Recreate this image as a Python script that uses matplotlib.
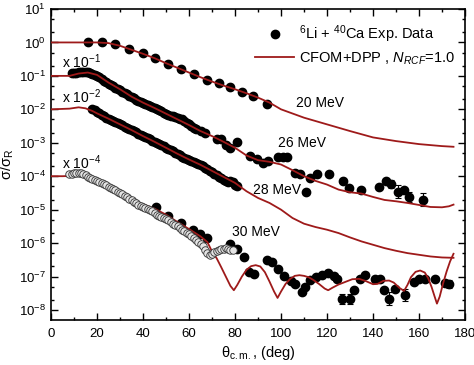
import numpy as np
import matplotlib
matplotlib.use('Agg')
import matplotlib.pyplot as plt
from matplotlib.ticker import LogLocator, MultipleLocator, NullFormatter

plt.rcParams['font.family'] = ['Liberation Sans', 'DejaVu Sans']
plt.rcParams['mathtext.fontset'] = 'custom'
plt.rcParams['mathtext.rm'] = 'Liberation Sans'
plt.rcParams['mathtext.it'] = 'Liberation Sans:italic'
plt.rcParams['mathtext.bf'] = 'Liberation Sans:bold'
plt.rcParams['mathtext.default'] = 'regular'

# values are log10 of the plotted (already scaled) sigma/sigma_R

# ---- 20 MeV (x 1)
th20 = [16, 22, 28, 34, 40, 45, 51, 56.5, 62, 68, 73, 78, 83, 88, 94]
lg20 = [0.01, 0.01, -0.05, -0.2, -0.33, -0.48, -0.65, -0.79, -0.94, -1.13,
        -1.22, -1.34, -1.48, -1.61, -1.85]
cth20 = [0, 10, 20, 25, 30, 35, 40, 45, 50, 55, 60, 65, 70, 75, 80, 85, 90,
         95, 100, 110, 120, 130, 140, 150, 160, 170, 175]
clg20 = [0, 0.0, 0.0, -0.02, -0.1, -0.22, -0.34, -0.47, -0.62, -0.76, -0.9,
         -1.04, -1.17, -1.29, -1.4, -1.52, -1.65, -1.8, -2.0, -2.25, -2.45,
         -2.65, -2.84, -2.95, -3.04, -3.1, -3.12]

# ---- 26 MeV (x 10^-1)
th26 = [9, 10, 11, 12, 13, 14, 15, 16, 17, 18, 19, 20, 21, 22, 23, 24, 25,
        26, 27, 28, 29, 30, 31, 32, 33, 34, 35, 36, 37, 38, 39, 40, 41, 42,
        43, 44, 45, 46, 47, 48, 49, 50, 51, 52, 53, 54, 55, 56, 57, 58, 59,
        60, 61, 62, 63, 65, 67, 72, 74, 76, 78, 81,
        86.7, 89.4, 92, 94.5, 98.8, 101, 102.7, 106, 108.3, 111, 112.8,
        115.8, 120.8, 126.8, 129.7, 134.8, 142.6, 145.7, 147.7, 150.7,
        153.6, 155.8, 161.9]
lg26 = [-0.91, -0.91, -0.9, -0.89, -0.88, -0.88, -0.88, -0.89, -0.9, -0.93,
        -0.96, -1.0, -1.04, -1.09, -1.14, -1.19, -1.23, -1.27, -1.31, -1.35,
        -1.39, -1.43, -1.47, -1.51, -1.55, -1.59, -1.63, -1.67, -1.71, -1.74,
        -1.77, -1.8, -1.83, -1.87, -1.9, -1.93, -1.97, -2.0, -2.03, -2.06,
        -2.1, -2.14, -2.17, -2.19, -2.2, -2.22, -2.25, -2.28, -2.3, -2.35,
        -2.4, -2.45, -2.5, -2.56, -2.6, -2.66, -2.72, -2.88, -2.9, -3.08,
        -3.16, -2.98,
        -3.39, -3.5, -3.6, -3.56, -3.44, -3.44, -3.44, -3.89, -3.94, -4.46,
        -4.05, -3.92, -3.94, -4.15, -4.34, -4.41, -4.32, -4.14, -4.22, -4.46,
        -4.4, -4.63, -4.7]
err26 = [0] * 79 + [0.12, 0.2, 0, 0.15, 0.2]
err26 = [0] * (len(th26) - len(err26)) + err26
cth26 = [0, 8, 12, 16, 20, 25, 30, 35, 40, 45, 50, 55, 60, 65, 70, 75, 80,
         85, 90, 95, 100, 105, 110, 115, 120, 125, 130, 135, 140, 145, 150,
         155, 160, 165, 170, 173, 175]
clg26 = [-1.0, -1.0, -0.93, -0.9, -0.97, -1.2, -1.4, -1.62, -1.8, -1.96,
         -2.13, -2.3, -2.47, -2.65, -2.8, -2.97, -3.15, -3.38, -3.52, -3.57,
         -3.65, -3.82, -4.0, -4.14, -4.25, -4.4, -4.48, -4.52, -4.62, -4.71,
         -4.75, -4.8, -4.86, -4.92, -4.93, -4.9, -4.85]

# ---- 28 MeV (x 10^-2)
th28 = list(range(18, 82))
lg28 = [-2.0, -2.03, -2.07, -2.12, -2.17, -2.21, -2.25, -2.28, -2.31, -2.34,
        -2.38, -2.41, -2.45, -2.48, -2.52, -2.55, -2.59, -2.62, -2.66, -2.69,
        -2.73, -2.76, -2.8, -2.83, -2.87, -2.9, -2.94, -2.97, -3.0, -3.04,
        -3.08, -3.11, -3.15, -3.18, -3.22, -3.26, -3.3, -3.34, -3.38, -3.42,
        -3.45, -3.48, -3.51, -3.54, -3.57, -3.6, -3.63, -3.66, -3.7, -3.74,
        -3.78, -3.83, -3.88, -3.93, -3.97, -4.01, -4.05, -4.1, -4.15, -4.17,
        -4.15, -4.18, -4.25, -4.3]
cth28 = [0, 8, 12, 15, 18, 20, 25, 30, 35, 40, 45, 50, 55, 60, 65, 70, 75,
         80, 85, 90, 95, 100, 105, 110, 115, 120, 125, 130, 135, 140, 145,
         150, 155, 160, 165, 170, 175]
clg28 = [-2.0, -1.98, -1.94, -1.97, -2.05, -2.12, -2.28, -2.45, -2.62, -2.8,
         -2.97, -3.15, -3.33, -3.5, -3.66, -3.84, -4.02, -4.2, -4.45, -4.65,
         -4.8, -5.0, -5.25, -5.42, -5.52, -5.6, -5.7, -5.83, -5.95, -6.05,
         -6.15, -6.23, -6.3, -6.35, -6.4, -6.43, -6.44]

# ---- 30 MeV (x 10^-4), open circles (dense forward data)
th30o = list(range(8, 80))
lg30o = [-3.94, -3.92, -3.91, -3.9, -3.89, -3.89, -3.93, -3.97, -4.01, -4.04,
         -4.08, -4.11, -4.15, -4.18, -4.21, -4.24, -4.27, -4.31, -4.34, -4.38,
         -4.42, -4.46, -4.5, -4.54, -4.58, -4.62, -4.67, -4.72, -4.77, -4.81,
         -4.85, -4.88, -4.92, -4.96, -4.99, -5.02, -5.05, -5.1, -5.15, -5.19,
         -5.22, -5.25, -5.28, -5.32, -5.37, -5.42, -5.46, -5.5, -5.55, -5.6,
         -5.64, -5.69, -5.74, -5.8, -5.86, -5.92, -5.98, -6.04, -6.1, -6.2,
         -6.3, -6.35, -6.33, -6.28, -6.25, -6.2, -6.18, -6.17, -6.16, -6.18,
         -6.2, -6.22]
# ---- 30 MeV (x 10^-4), solid circles
th30 = [45.7, 51, 56.5, 61.9, 64.8, 67.7, 77.8, 80.8, 83.7, 86.2, 88.4, 93.7,
        96, 98.9, 101.1, 104.3, 106.1, 109, 110.5, 112.7, 115.2, 117.9, 120.3,
        122.9, 124.3, 126.5, 130.1, 131.6, 134.5, 136.7, 141, 143.2, 144.6,
        146.8, 149.7, 154, 157.7, 160, 162.7, 167.1, 171.4, 172.9]
lg30 = [-4.93, -5.2, -5.4, -5.6, -5.72, -5.86, -6.02, -6.17, -6.43, -6.87,
        -6.91, -6.52, -6.58, -6.76, -6.97, -7.12, -7.23, -7.45, -7.31, -7.11,
        -7.0, -6.94, -6.9, -6.99, -7.06, -7.66, -7.66, -7.41, -7.06, -6.96,
        -7.06, -7.07, -7.41, -7.66, -7.36, -7.56, -7.16, -7.06, -7.06, -7.08,
        -7.19, -7.23]
err30 = [0] * 25 + [0.15, 0.15] + [0] * 6 + [0.2, 0, 0.18] + [0] * 5 + [0.12]
cth30 = [0, 5, 10, 13, 16, 20, 25, 30, 35, 40, 45, 50, 55, 60, 65, 68, 70,
         72, 74, 76, 78, 79.5, 81, 83, 85, 87, 89, 91, 93, 95, 97, 98.5, 100,
         102, 104, 106, 108, 110, 112, 114, 116.5, 119, 120.5, 122.5, 125,
         128, 131, 134, 137, 140, 142, 144.5, 147, 149, 151.5, 153.5, 155,
         156.5, 158.5, 160.5, 162.5, 164, 165.5, 166.8, 167.8, 169, 170.5,
         172, 173.5, 175]
clg30 = [-4.0, -4.0, -3.99, -3.98, -4.03, -4.15, -4.38, -4.55, -4.7, -4.84,
         -4.97, -5.15, -5.37, -5.58, -5.8, -5.97, -6.25, -6.45, -6.72, -7.0,
         -7.28, -7.41, -7.25, -7.0, -6.8, -6.69, -6.66, -6.7, -6.87, -7.15,
         -7.45, -7.64, -7.45, -7.22, -7.07, -6.98, -6.96, -6.98, -7.02, -7.1,
         -7.22, -7.36, -7.41, -7.33, -7.24, -7.16, -7.08, -7.07, -7.14, -7.23,
         -7.22, -7.13, -7.12, -7.18, -7.34, -7.43, -7.25, -7.02, -6.86, -6.82,
         -6.88, -7.05, -7.32, -7.6, -7.81, -7.6, -7.2, -6.85, -6.55, -6.32]

energy_labels = ['20 MeV', '26 MeV', '28 MeV', '30 MeV']
energy_pos = [(320, 103), (302, 143), (277, 190), (256, 232)]  # pixel centres
scale_labels = [r'x 10$^{-1}$', r'x 10$^{-2}$', r'x 10$^{-4}$']
scale_pos = [(62, 62), (62, 97), (62, 163)]

RED = '#9e1a1a'

fig = plt.figure(figsize=(4.74, 3.65), dpi=100)
ax = fig.add_axes([51 / 474, 1 - 320 / 365, 414 / 474, 311 / 365])
ax.set_yscale('log')


def dots(th, lg, err=None, open_=False):
    y = 10.0 ** np.array(lg)
    if err is not None and any(err):
        e = np.array(err)
        lo = y * (1 - 10.0 ** (-e))
        hi = y * (10.0 ** e - 1)
        ax.errorbar(th, y, yerr=[lo, hi], fmt='none', ecolor='black',
                    elinewidth=0.8, capsize=2.2, capthick=0.8, zorder=2)
    if open_:
        ax.plot(th, y, 'o', ms=5.4, mfc='#e4e4e4', mec='#333333', mew=0.6,
                zorder=4, ls='none')
    else:
        ax.plot(th, y, 'o', ms=6.0, color='black', zorder=2, ls='none')


def curve(th, lg):
    ax.plot(th, 10.0 ** np.array(lg), color=RED, lw=1.3, zorder=3)


dots(th20, lg20)
dots(th26, lg26, err26)
dots(th28, lg28)
dots(th30o, lg30o, open_=True)
dots(th30, lg30, err30)
curve(cth20, clg20)
curve(cth26, clg26)
curve(cth28, clg28)
curve(cth30, clg30)

ax.set_xlim(0, 180)
ax.set_ylim(10 ** -8.3, 10.0)
ax.xaxis.set_major_locator(MultipleLocator(20))
ax.xaxis.set_minor_locator(MultipleLocator(10))
ax.yaxis.set_major_locator(LogLocator(base=10, numticks=20))
ax.yaxis.set_minor_locator(LogLocator(base=10, subs=[2, 5], numticks=20))
ax.yaxis.set_minor_formatter(NullFormatter())
ax.tick_params(which='both', direction='in', top=True, right=True,
               labelsize=9.5, width=1.0)
ax.tick_params(which='major', length=5)
ax.tick_params(which='minor', length=2.5)
ax.tick_params(axis='x', pad=6)
for s in ax.spines.values():
    s.set_linewidth(1.2)

ax.set_xlabel(r'$\theta_{c.m.}$, (deg)', fontsize=10.5, labelpad=3)
ax.set_ylabel(r'$\sigma/\sigma_R$', fontsize=10.5, labelpad=2)

for txt, (px, py) in zip(energy_labels, energy_pos):
    fig.text(px / 474, 1 - py / 365, txt, fontsize=10, ha='center',
             va='center')
for txt, (px, py) in zip(scale_labels, scale_pos):
    fig.text(px / 474, 1 - py / 365, txt, fontsize=10, ha='left',
             va='center')

h1, = ax.plot([], [], 'o', ms=6.0, color='black')
h2, = ax.plot([], [], color=RED, lw=1.3)
ax.legend([h1, h2], [r'$^{6}$Li + $^{40}$Ca Exp. Data',
                     r'CFOM+DPP , $\mathit{N}_{\mathit{RCF}}$=1.0'],
          loc='upper right', bbox_to_anchor=(1.0, 0.985), frameon=False,
          fontsize=10.5, handlelength=2.7, handletextpad=0.3,
          labelspacing=0.35, borderaxespad=0.3)

fig.savefig('out.png', dpi=100)
